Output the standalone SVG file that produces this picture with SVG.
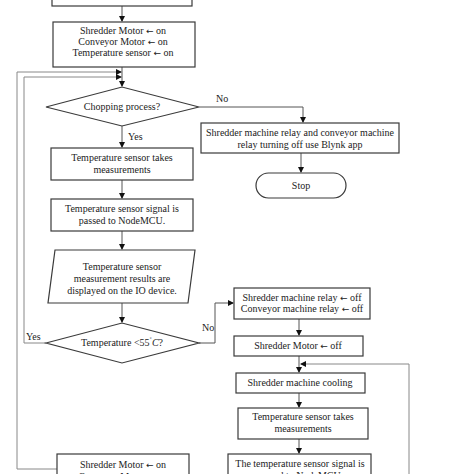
<svg xmlns="http://www.w3.org/2000/svg" width="474" height="474" viewBox="0 0 474 474">
<defs>
<marker id="ah" markerWidth="6" markerHeight="6" refX="5" refY="3" orient="auto" markerUnits="userSpaceOnUse">
<path d="M0,0 L6,3 L0,6 Z" fill="#111"/>
</marker>
<style>
.box{fill:#fff;stroke:#3a3a3a;stroke-width:1.2}
.t{font-family:"Liberation Serif","Times New Roman",serif;font-size:10px;fill:#222;text-anchor:middle}
.l{font-family:"Liberation Serif","Times New Roman",serif;font-size:10px;fill:#222}
.a{font-family:"DejaVu Sans",sans-serif;font-size:9px}
.c{fill:none;stroke:#555;stroke-width:1}
.g{fill:none;stroke:#888;stroke-width:1}
</style>
</defs>
<rect width="474" height="474" fill="#fff"/>
<g id="connectors">
<path class="c" d="M122,6 V21" marker-end="url(#ah)"/>
<path class="c" d="M122,67 V86" marker-end="url(#ah)"/>
<path class="g" d="M57,469 H17 V72 H121" marker-end="url(#ah)"/>
<path class="g" d="M46,343 H24 V77 H121" marker-end="url(#ah)"/>
<path class="c" d="M199,107 H303 V122" marker-end="url(#ah)"/>
<path class="c" d="M301,153 V172" marker-end="url(#ah)"/>
<path class="c" d="M122,126 V147" marker-end="url(#ah)"/>
<path class="c" d="M122,180 V198" marker-end="url(#ah)"/>
<path class="c" d="M122,231 V249" marker-end="url(#ah)"/>
<path class="c" d="M122,303 V322" marker-end="url(#ah)"/>
<path class="c" d="M199,343 H215 V303 H233" marker-end="url(#ah)"/>
<path class="c" d="M299,319 V335" marker-end="url(#ah)"/>
<path class="c" d="M299,356 V372" marker-end="url(#ah)"/>
<path class="g" d="M409,480 V364 H301" marker-end="url(#ah)"/>
<path class="c" d="M299,393 V407" marker-end="url(#ah)"/>
<path class="c" d="M299,439 V453" marker-end="url(#ah)"/>
<text class="l" x="216" y="102">No</text>
<text class="l" x="128" y="140">Yes</text>
<text class="l" x="26" y="340">Yes</text>
<text class="l" x="202" y="331">No</text>
</g>
<g id="n0"><rect class="box" x="52" y="-20" width="140" height="26"/></g>
<g id="n1"><rect class="box" x="53" y="22" width="142" height="45"/>
<text class="t" x="123" y="34">Shredder Motor <tspan class="a">←</tspan> on</text>
<text class="t" x="123" y="45">Conveyor Motor <tspan class="a">←</tspan> on</text>
<text class="t" x="123" y="56">Temperature sensor <tspan class="a">←</tspan> on</text></g>
<g id="n2"><path class="box" d="M46,107 L122,87 L199,107 L122,126 Z"/>
<text class="t" x="122" y="110">Chopping process?</text></g>
<g id="n3"><rect class="box" x="201" y="123" width="198" height="30"/>
<text class="t" x="300" y="136">Shredder machine relay and conveyor machine</text>
<text class="t" x="300" y="148">relay turning off use Blynk app</text></g>
<g id="n4"><rect class="box" x="256" y="173" width="90" height="25" rx="12.5"/>
<text class="t" x="301" y="189">Stop</text></g>
<g id="n5"><rect class="box" x="51" y="148" width="142" height="32"/>
<text class="t" x="122" y="161">Temperature sensor takes</text>
<text class="t" x="122" y="173">measurements</text></g>
<g id="n6"><rect class="box" x="51" y="199" width="142" height="32"/>
<text class="t" x="122" y="212">Temperature sensor signal is</text>
<text class="t" x="122" y="224">passed to NodeMCU.</text></g>
<g id="n7"><path class="box" d="M55,250 H195 L188,303 H48 Z"/>
<text class="t" x="122" y="270">Temperature sensor</text>
<text class="t" x="122" y="282">measurement results are</text>
<text class="t" x="122" y="294">displayed on the IO device.</text></g>
<g id="n8"><path class="box" d="M46,343 L122,323 L199,343 L122,363 Z"/>
<text class="t" x="122" y="346">Temperature &lt;55<tspan font-size="7" dy="-4">˚</tspan><tspan dy="4" font-style="italic">C</tspan>?</text></g>
<g id="n9"><rect class="box" x="234" y="288" width="136" height="31"/>
<text class="t" x="302" y="301">Shredder machine relay <tspan class="a">←</tspan> off</text>
<text class="t" x="302" y="312">Conveyor machine relay <tspan class="a">←</tspan> off</text></g>
<g id="n10"><rect class="box" x="234" y="336" width="129" height="20"/>
<text class="t" x="298" y="349">Shredder Motor <tspan class="a">←</tspan> off</text></g>
<g id="n11"><rect class="box" x="236" y="373" width="129" height="20"/>
<text class="t" x="300" y="386">Shredder machine cooling</text></g>
<g id="n12"><rect class="box" x="238" y="408" width="130" height="31"/>
<text class="t" x="303" y="420">Temperature sensor takes</text>
<text class="t" x="303" y="432">measurements</text></g>
<g id="n13"><rect class="box" x="228" y="454" width="143" height="34"/>
<text class="t" x="300" y="467">The temperature sensor signal is</text>
<text class="t" x="300" y="479">passed to NodeMCU.</text></g>
<g id="n14"><rect class="box" x="57" y="454" width="132" height="34"/>
<text class="t" x="123" y="468">Shredder Motor <tspan class="a">←</tspan> on</text>
<text class="t" x="123" y="480">Conveyor Motor <tspan class="a">←</tspan> on</text></g>
</svg>
